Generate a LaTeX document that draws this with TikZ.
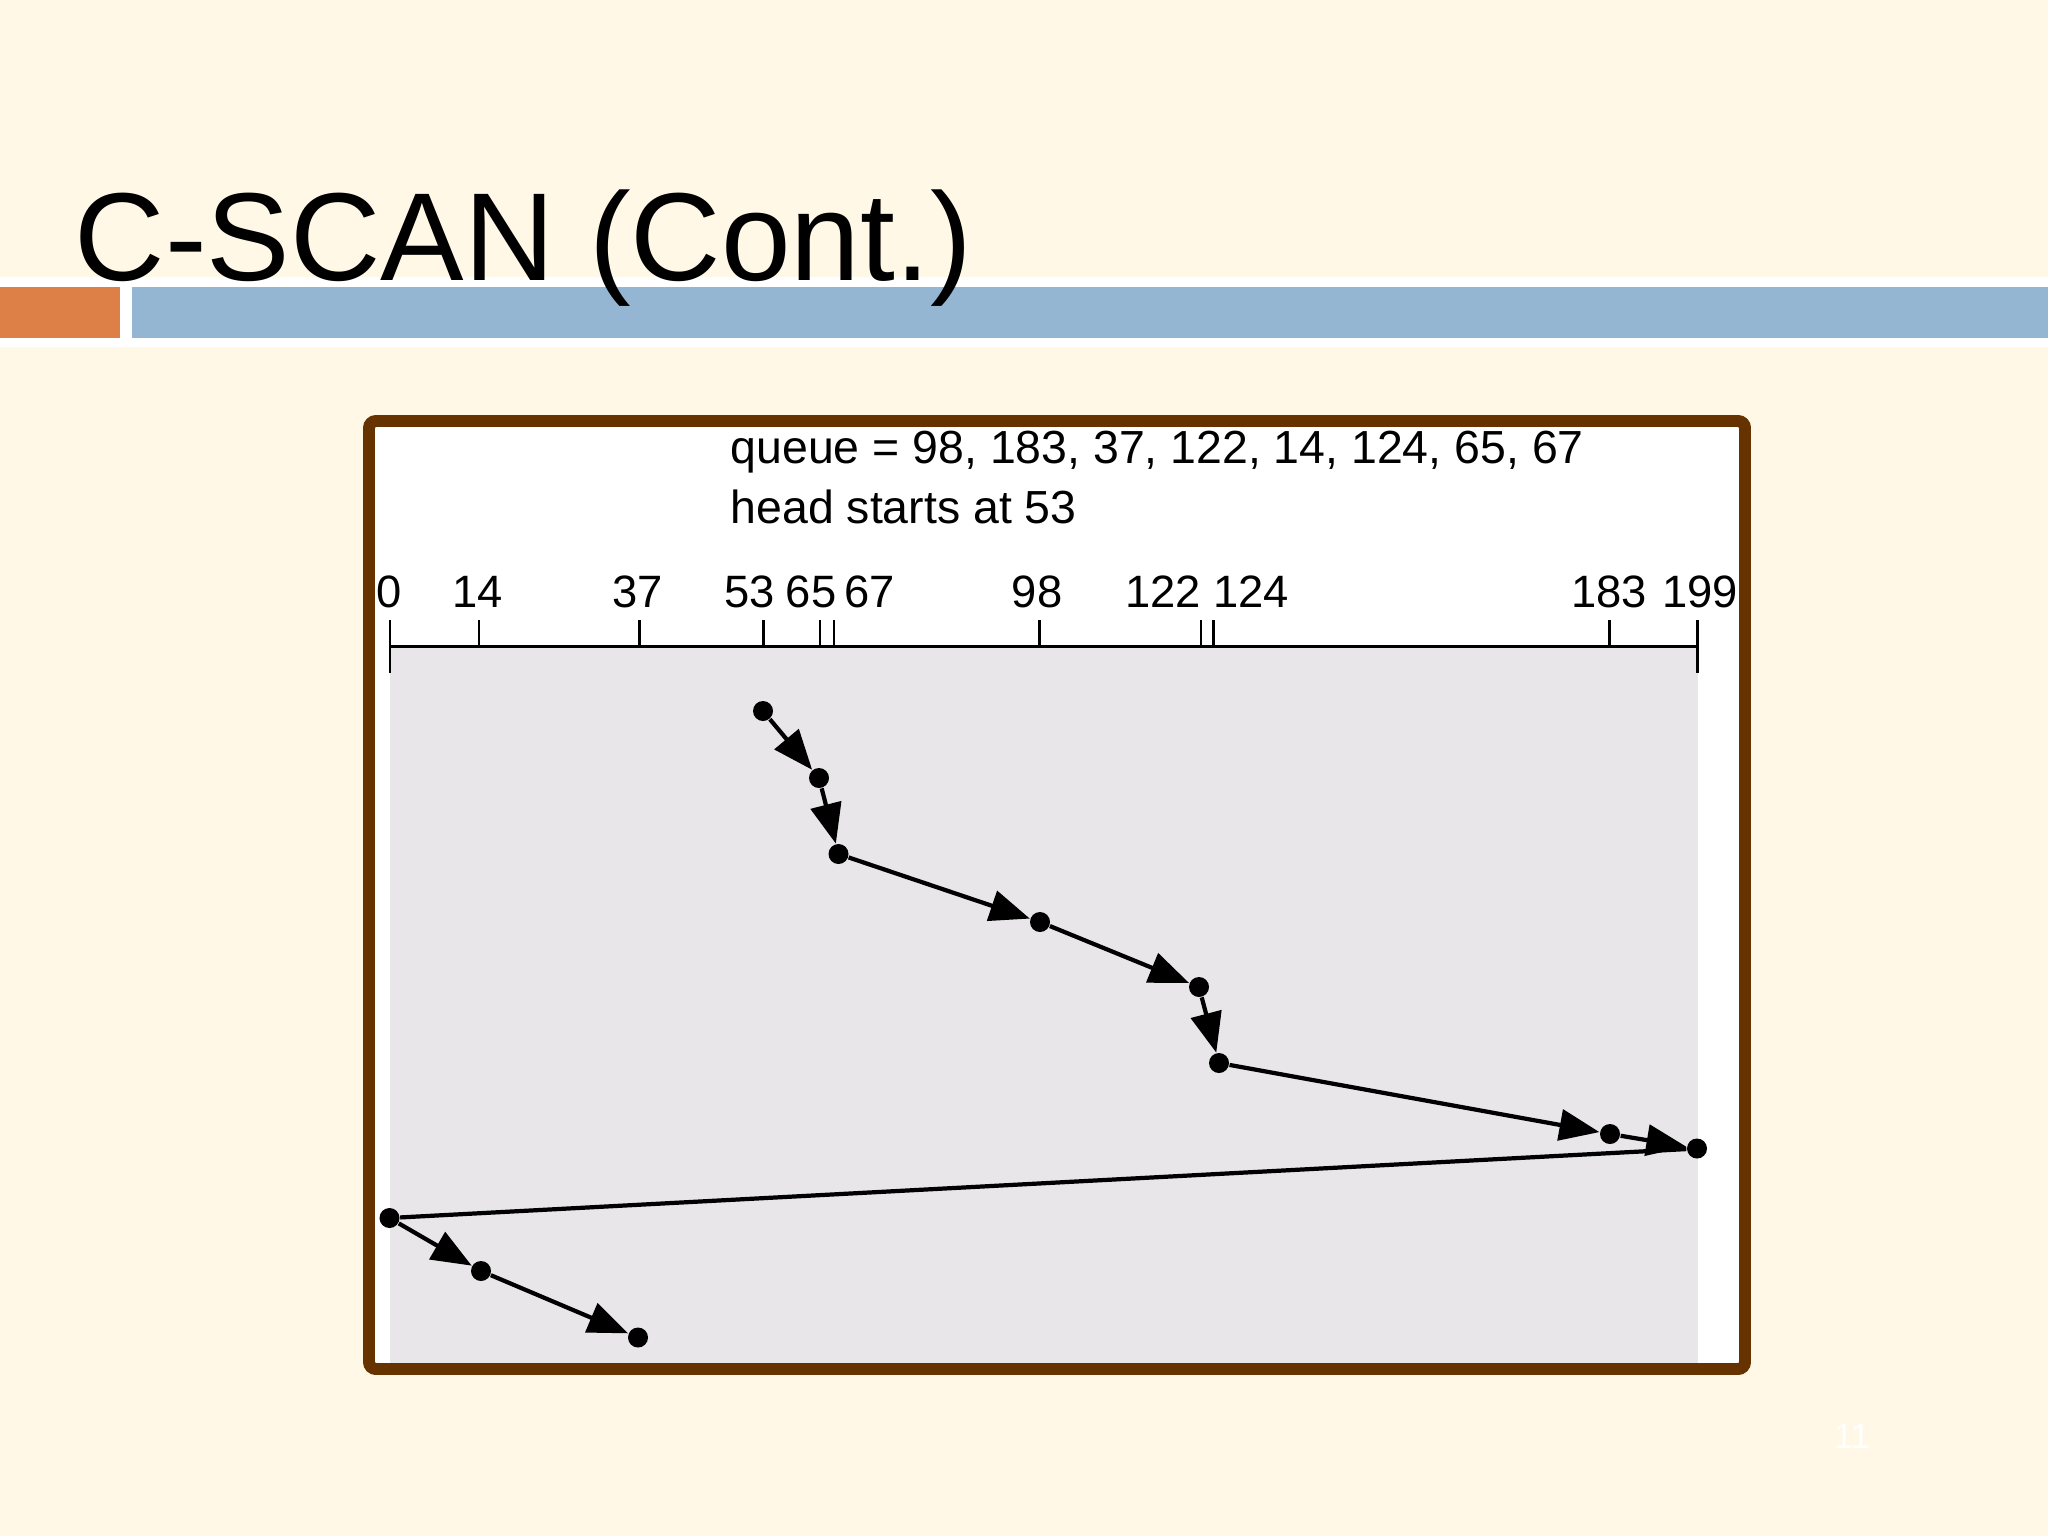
\documentclass[tikz,border=0pt]{standalone}
\usepackage{fontspec}
\setmainfont{Liberation Sans}
\usetikzlibrary{arrows.meta}
\definecolor{slidebg}{RGB}{255,248,230}
\definecolor{barorange}{RGB}{221,128,71}
\definecolor{barblue}{RGB}{148,182,210}
\definecolor{framebrown}{RGB}{102,51,0}
\definecolor{trackgray}{RGB}{232,230,233}

\begin{document}
\begin{tikzpicture}[x=0.01cm,y=-0.01cm]
        \tikzstyle{request}=[circle,fill=black,inner sep=0pt,minimum size=0.2cm]
        \tikzstyle{move}=[line width=1.2pt,-{Triangle[length=0.4cm,width=0.31cm]}]
        \tikzstyle{cylinder}=[inner sep=0pt,anchor=base,font=\fontsize{12.9}{15}\selectfont]
        \tikzstyle{tick}=[line width=0.6pt]
        % slide
        \fill[slidebg] (0,0) rectangle (2048,1536);
        \useasboundingbox (0,0) rectangle (2048,1536);
        \fill[white] (0,277) rectangle (2048,347);
        \fill[barorange] (0,287) rectangle (120,338);
        \fill[barblue] (132,287) rectangle (2048,338);
        \node[anchor=base west,inner sep=0pt,font=\fontsize{35.6}{42}\selectfont] (title) at (74,280) {C-SCAN (Cont.)};
        \node[anchor=base,inner sep=0pt,text=white,font=\fontsize{10}{12}\selectfont] (pagenum) at (1852,1448) {11};
        % chart
        \filldraw[fill=white,draw=framebrown,line width=3.4pt,rounded corners=2pt] (369,421) rectangle (1745,1369);
        \fill[trackgray] (390,646) rectangle (1698,1363);
        \node[anchor=base west,inner sep=0pt,font=\fontsize{13.2}{17}\selectfont] (queue) at (730,463) {queue = 98, 183, 37, 122, 14, 124, 65, 67};
        \node[anchor=base west,inner sep=0pt,font=\fontsize{13.2}{17}\selectfont] (head) at (730,523) {head starts at 53};
        % axis
        \draw[line width=0.7pt] (390,646.5) -- (1697.5,646.5);
        \draw[tick] (390,620) -- (390,673);
        \draw[tick] (479,620) -- (479,646.5);
        \draw[tick] (639.5,620) -- (639.5,646.5);
        \draw[tick] (763.5,620) -- (763.5,646.5);
        \draw[tick] (820,620) -- (820,646.5);
        \draw[tick] (834,620) -- (834,646.5);
        \draw[tick] (1039.5,620) -- (1039.5,646.5);
        \draw[tick] (1201,620) -- (1201,646.5);
        \draw[tick] (1213.5,620) -- (1213.5,646.5);
        \draw[tick] (1609.5,620) -- (1609.5,646.5);
        \draw[tick] (1697.5,620) -- (1697.5,673);
        \node[cylinder] (lab0) at (389,607) {0};
        \node[cylinder] (lab14) at (478,607) {14};
        \node[cylinder] (lab37) at (638,607) {37};
        \node[cylinder] (lab53) at (749.5,607) {53};
        \node[cylinder] (lab65) at (811,607) {65};
        \node[cylinder] (lab67) at (869.5,607) {67};
        \node[cylinder] (lab98) at (1037,607) {98};
        \node[cylinder] (lab122) at (1163,607) {122};
        \node[cylinder] (lab124) at (1251,607) {124};
        \node[cylinder] (lab183) at (1609,607) {183};
        \node[cylinder] (lab199) at (1700,607) {199};
        % head movement
        \node[request] (p53) at (763,711) {};
        \node[request] (p65) at (819,778) {};
        \node[request] (p67) at (838.5,854) {};
        \node[request] (p98) at (1040,922) {};
        \node[request] (p122) at (1199,987) {};
        \node[request] (p124) at (1219,1063) {};
        \node[request] (p183) at (1610,1134) {};
        \node[request] (p199) at (1697,1148.5) {};
        \node[request] (p0) at (389.5,1218) {};
        \node[request] (p14) at (481,1271) {};
        \node[request] (p37) at (638,1337.5) {};
        \draw[move] (p53) -- (p65);
        \draw[move] (p65) -- (p67);
        \draw[move] (p67) -- (p98);
        \draw[move] (p98) -- (p122);
        \draw[move] (p122) -- (p124);
        \draw[move] (p124) -- (p183);
        \draw[move] (p183) -- (p199);
        \draw[line width=1.2pt] (p199) -- (p0);
        \draw[move] (p0) -- (p14);
        \draw[move] (p14) -- (p37);
\end{tikzpicture}
\end{document}
